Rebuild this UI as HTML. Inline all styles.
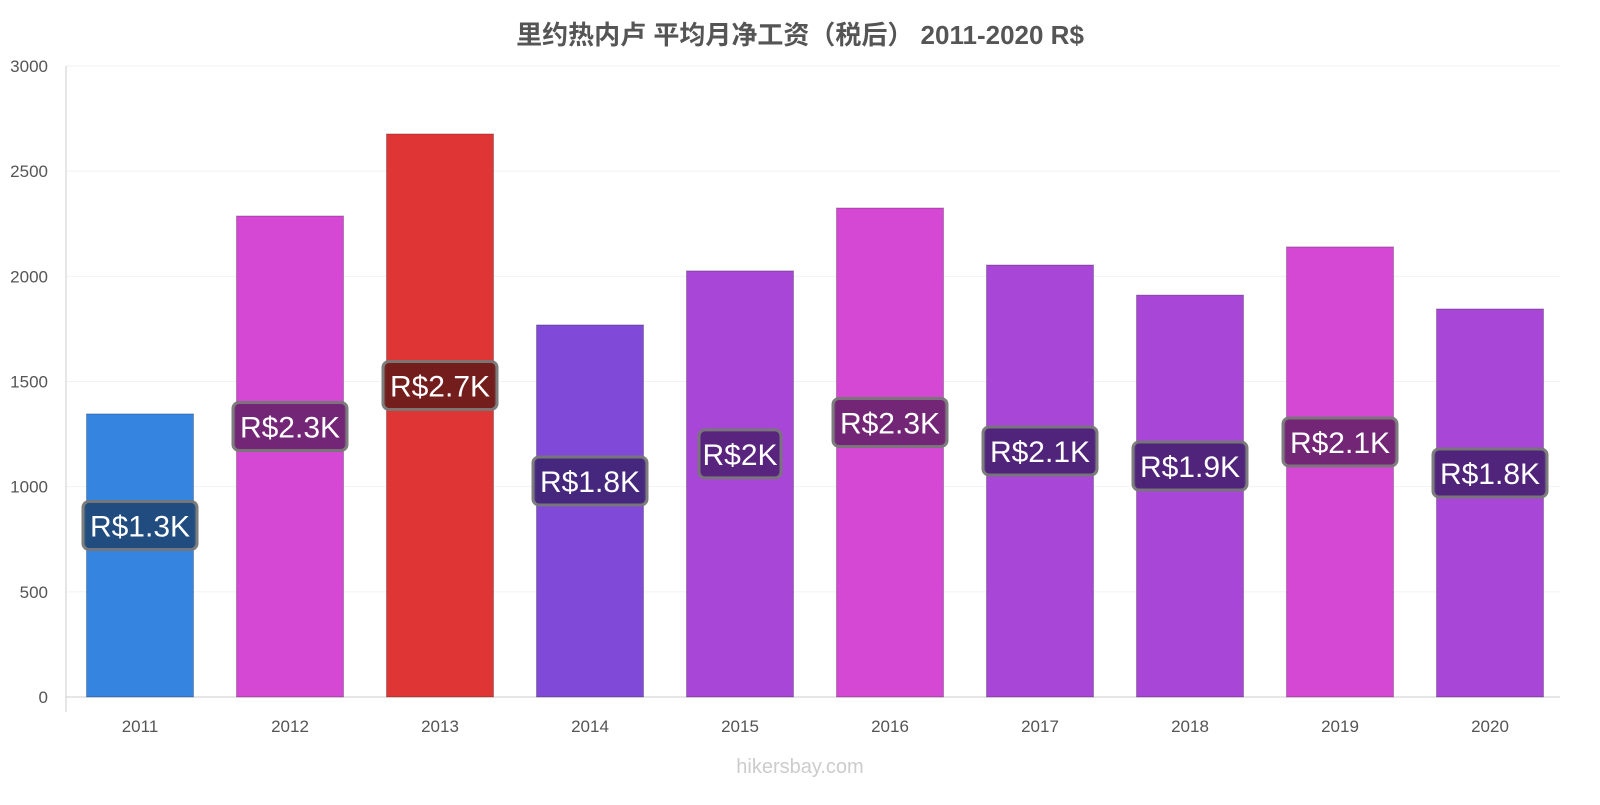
<!DOCTYPE html>
<html><head><meta charset="utf-8"><style>
body{margin:0;background:#fff;width:1600px;height:800px;overflow:hidden;font-family:"Liberation Sans","Noto Sans CJK SC",sans-serif}
</style></head><body>
<svg width="1600" height="800" id="c">
<text x="800" y="44" text-anchor="middle" font-size="26" font-weight="bold" fill="#555">里约热内卢 平均月净工资（税后） 2011-2020 R$</text>
<text x="800" y="773" text-anchor="middle" font-size="20" fill="#ccc">hikersbay.com</text>
</svg>
<script>
const years=["2011","2012","2013","2014","2015","2016","2017","2018","2019","2020"];
const values=[1346,2287,2677,1769,2026,2325,2054,1911,2140,1845];
const labels=["R$1.3K","R$2.3K","R$2.7K","R$1.8K","R$2K","R$2.3K","R$2.1K","R$1.9K","R$2.1K","R$1.8K"];
const yTicks=[0,500,1000,1500,2000,2500,3000];
const colors=["#3584e0","#d548d4","#e03535","#8049d8","#a846d8","#d548d4","#a846d8","#a846d8","#d548d4","#a846d8"];
const labelBg=["#1f4a7a","#6e2570","#6e1c1c","#43267a","#55237a","#6e2570","#4c2375","#4c2375","#6e2570","#4c2375"];
const svg=document.getElementById('c');const NS="http://www.w3.org/2000/svg";
const y0=697,yTop=66,yMax=3000;
const y=v=>y0-(v/yMax)*(y0-yTop);
const x=i=>140+150*i;
function mk(t,a,p){const e=document.createElementNS(NS,t);for(const k in a)e.setAttribute(k,a[k]);(p||svg).appendChild(e);return e;}
yTicks.forEach(t=>{
 const g=mk('line',{x1:66,x2:1560,y1:y(t),y2:y(t),stroke:t?'#f2f2f2':'#ccc'});
 
 
 const l=mk('text',{x:48,y:y(t)+6,'text-anchor':'end','font-size':17,fill:'#555'});l.textContent=t;
 
 
});
const ax=mk('line',{x1:66,x2:66,y1:66,y2:712,stroke:'#ccc'});


years.forEach((yr,i)=>{
 const b=mk('rect',{x:x(i)-53.5,y:y(values[i]),width:107,height:y0-y(values[i]),fill:colors[i],stroke:'rgba(0,0,0,0.25)','stroke-width':1});
 
 
 const t=mk('text',{x:x(i),y:732,'text-anchor':'middle','font-size':17,fill:'#555'});t.textContent=yr;
 
 
 const cy=(y(values[i])+y0)/2-30;
 const w=labels[i].length*16+18;
 const r=mk('rect',{x:x(i)-w/2,y:cy-24,width:w,height:48,rx:6,fill:labelBg[i],stroke:'#777','stroke-width':3,opacity:0.95});
 
 
 const lt=mk('text',{x:x(i),y:cy+11,'text-anchor':'middle','font-size':30,fill:'#fff'});lt.textContent=labels[i];
 
 
});
</script>
</body></html>
